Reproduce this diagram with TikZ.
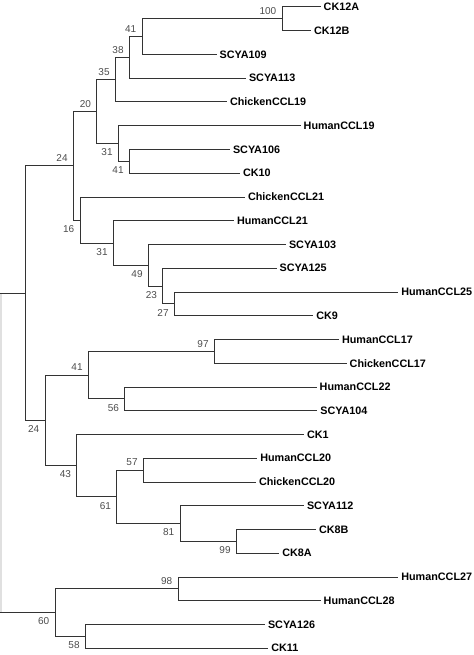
\documentclass[tikz,border=0pt]{standalone}
\usepackage{fontspec}
\setmainfont{Liberation Sans}
\usetikzlibrary{calc}
\tikzset{
  branch/.style={draw=black!80,line width=1bp},
  rootline/.style={draw=black!12,line width=3bp},
  leaf/.style={anchor=west,inner xsep=3bp,inner ysep=0pt,outer sep=0pt,font=\fontsize{10.8bp}{13bp}\selectfont\bfseries},
  boot/.style={inner sep=0pt,text=black!70,font=\fontsize{10bp}{11bp}\selectfont},
}
\begin{document}
\begin{tikzpicture}[x=1bp,y=-1bp]
  \useasboundingbox (0,0) rectangle (474,655);
  \foreach \n/\t/\x [count=\i from 0] in {
      ck12a/CK12A/320.7, ck12b/CK12B/311, scya109/SCYA109/216.7, scya113/SCYA113/246,
      chcc19/ChickenCCL19/227, hucc19/HumanCCL19/300.7, scya106/SCYA106/230, ck10/CK10/240,
      chcc21/ChickenCCL21/245, hucc21/HumanCCL21/234, scya103/SCYA103/286, scya125/SCYA125/276.7,
      hucc25/HumanCCL25/398.3, ck9/CK9/313.3, hucc17/HumanCCL17/339, chcc17/ChickenCCL17/346.7,
      hucc22/HumanCCL22/316.7, scya104/SCYA104/317.3, ck1/CK1/304, hucc20/HumanCCL20/257.3,
      chcc20/ChickenCCL20/256, scya112/SCYA112/304, ck8b/CK8B/316, ck8a/CK8A/279.3,
      hucc27/HumanCCL27/398.3, hucc28/HumanCCL28/320.7, scya126/SCYA126/265, ck11/CK11/268.3}
    \node[leaf] (\n) at (\x,{7+23.75*\i}) {\t};
  \foreach \n/\x/\i in {
      ingroup/25/12.047, n24a/73.3/6.6875, n20/96.7/4.40625, n35/115.3/3.0625, n38/129.3/2.125,
      n41a/142/1.25, n100/282/0.5, n31a/118.3/5.75, n41b/129.3/6.5, n16/80/8.96875,
      n31b/113.3/9.9375, n49/148.3/10.875, n23/162.7/11.75, n27/174.3/12.5,
      n24b/45/17.40625, n41c/88.3/15.5, n97/214.3/14.5, n56/124.7/16.5, n43/76.7/19.3125,
      n61/116.7/20.625, n57/143.3/19.5, n81/180/21.75, n99/236.3/22.5,
      n60/55/25.5, n98/178/24.5, n58/85.3/26.5, root/0/18.77}
    \coordinate (\n) at (\x,{7+23.75*\i});
  \draw[rootline] (root |- ingroup) -- (root |- n60);
  \draw[branch] (root |- ingroup) -- (ingroup);
  \draw[branch] (root |- n60) -- (n60);
  \foreach \p/\c in {
      ingroup/n24a, ingroup/n24b, n24a/n20, n24a/n16, n20/n35, n20/n31a,
      n35/n38, n35/chcc19, n38/n41a, n38/scya113, n41a/n100, n41a/scya109,
      n100/ck12a, n100/ck12b, n31a/hucc19, n31a/n41b, n41b/scya106, n41b/ck10,
      n16/chcc21, n16/n31b, n31b/hucc21, n31b/n49, n49/scya103, n49/n23,
      n23/scya125, n23/n27, n27/hucc25, n27/ck9,
      n24b/n41c, n24b/n43, n41c/n97, n41c/n56, n97/hucc17, n97/chcc17,
      n56/hucc22, n56/scya104, n43/ck1, n43/n61, n61/n57, n61/n81,
      n57/hucc20, n57/chcc20, n81/scya112, n81/n99, n99/ck8b, n99/ck8a,
      n60/n98, n60/n58, n98/hucc27, n98/hucc28, n58/scya126, n58/ck11}
    \draw[branch] (\p) |- (\c);
  \foreach \n/\v in {n24a/24, n20/20, n35/35, n38/38, n41a/41, n100/100, n41c/41, n97/97, n57/57, n98/98}
    \node[boot,anchor=south east] (b\n) at ([shift={(-5.5,-4)}]\n) {\v};
  \foreach \n/\v in {n24b/24, n16/16, n31a/31, n41b/41, n31b/31, n49/49, n23/23, n27/27,
      n56/56, n43/43, n61/61, n81/81, n99/99, n60/60, n58/58}
    \node[boot,anchor=north east] (b\n) at ([shift={(-5.5,5)}]\n) {\v};
\end{tikzpicture}
\end{document}
